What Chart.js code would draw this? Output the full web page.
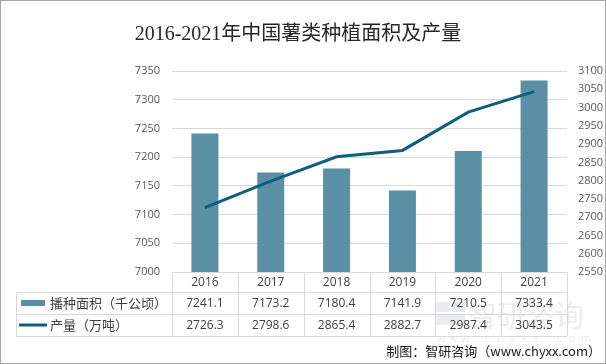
<!DOCTYPE html>
<html>
<head>
<meta charset="utf-8">
<script src="https://cdn.jsdelivr.net/npm/chart.js@4"></script>
<style>
  body { margin: 0; background: #fff; }
  #wrap { width: 606px; height: 364px; }
</style>
</head>
<body>
<div id="wrap"><canvas id="PotatoChart" width="606" height="364"></canvas></div>
<script>
const years = ['2016', '2017', '2018', '2019', '2020', '2021'];
const areaValues = [7241.1, 7173.2, 7180.4, 7141.9, 7210.5, 7333.4];
const outputValues = [2726.3, 2798.6, 2865.4, 2882.7, 2987.4, 3043.5];
const areaLabel = '播种面积（千公顷）';
const outputLabel = '产量（万吨）';
const titleText = '2016-2021年中国薯类种植面积及产量';
const sourceText = '制图：智研咨询（www.chyxx.com）';

const barColor = 'rgb(90,143,165)';
const lineColor = 'rgb(14,94,124)';
const gridColor = '#d9d9d9';
const numFont = "'Open Sans', 'Noto Sans CJK SC', sans-serif";
const cjkFont = "'Noto Sans CJK SC', sans-serif";

// draws title, the data table under the plot, watermark, source and frame
const tablePlugin = {
    id: 'tablePlugin',
    afterDraw(chart) {
        const ctx = chart.ctx;
        const area = chart.chartArea;
        const x = chart.scales.x;
        const half = (x.getPixelForValue(1) - x.getPixelForValue(0)) / 2;
        const rowTop = area.bottom;
        const row1 = rowTop + 20;
        const row2 = row1 + 22;
        const row3 = row2 + 22;
        const leftEdge = 16;
        ctx.save();

        // watermark
        ctx.fillStyle = 'rgba(180,188,198,0.28)';
        ctx.fillRect(436, 302, 13, 10);
        ctx.fillRect(452, 302, 13, 10);
        ctx.fillRect(436, 315, 29, 10);
        ctx.font = '29px ' + cjkFont;
        ctx.textAlign = 'left';
        ctx.textBaseline = 'middle';
        ctx.fillText('智研咨询', 468, 316);
        ctx.font = '11px ' + numFont;
        const wm = 'www.chyxx.com';
        for (let i = 0; i < wm.length; i++) {
            ctx.fillText(wm[i], 437 + i * 12, 339);
        }

        // table lines
        ctx.strokeStyle = gridColor;
        ctx.lineWidth = 1;
        ctx.beginPath();
        ctx.moveTo(area.left, row1 + 0.5); ctx.lineTo(area.right, row1 + 0.5);
        ctx.moveTo(leftEdge, row1 + 0.5); ctx.lineTo(area.left, row1 + 0.5);
        ctx.moveTo(leftEdge, row2 + 0.5); ctx.lineTo(area.right, row2 + 0.5);
        ctx.moveTo(leftEdge, row3 + 0.5); ctx.lineTo(area.right, row3 + 0.5);
        ctx.moveTo(leftEdge + 0.5, row1); ctx.lineTo(leftEdge + 0.5, row3);
        for (let i = 0; i <= years.length; i++) {
            const px = Math.round(x.getPixelForValue(i) - half) + 0.5;
            ctx.moveTo(px, rowTop); ctx.lineTo(px, row3);
        }
        ctx.stroke();

        // header and values
        ctx.textAlign = 'center';
        ctx.textBaseline = 'middle';
        ctx.fillStyle = '#404040';
        ctx.font = '12px ' + numFont;
        years.forEach((y, i) => {
            const cx = x.getPixelForValue(i);
            ctx.fillText(y, cx, (rowTop + row1) / 2 + 1);
            ctx.fillText(areaValues[i].toFixed(1), cx, (row1 + row2) / 2 + 1);
            ctx.fillText(outputValues[i].toFixed(1), cx, (row2 + row3) / 2 + 1);
        });

        // legend keys
        ctx.fillStyle = barColor;
        ctx.fillRect(21, (row1 + row2) / 2 - 3, 24, 6);
        ctx.strokeStyle = lineColor;
        ctx.lineWidth = 3;
        ctx.beginPath();
        ctx.moveTo(19, (row2 + row3) / 2);
        ctx.lineTo(47, (row2 + row3) / 2);
        ctx.stroke();
        ctx.textAlign = 'left';
        ctx.fillStyle = '#404040';
        ctx.font = '13px ' + cjkFont;
        ctx.fillText(areaLabel, 50, (row1 + row2) / 2);
        ctx.fillText(outputLabel, 50, (row2 + row3) / 2);

        // title
        ctx.textAlign = 'center';
        ctx.fillStyle = '#262626';
        ctx.font = "20px 'Liberation Serif', 'Noto Sans CJK SC', serif";
        ctx.fillText(titleText, 298, 35);

        // source
        ctx.textAlign = 'right';
        ctx.fillStyle = '#1a1a1a';
        ctx.font = '13px ' + cjkFont;
        ctx.fillText(sourceText, 601, 351);

        // frame
        ctx.strokeStyle = '#a6a6a6';
        ctx.lineWidth = 1;
        ctx.strokeRect(0.5, 0.5, chart.width - 1, chart.height - 1);
        ctx.restore();
    }
};

const plainTick = (v) => String(v);

new Chart(document.getElementById('PotatoChart').getContext('2d'), {
    type: 'bar',
    data: {
        labels: years,
        datasets: [
            {
                type: 'line',
                label: outputLabel,
                data: outputValues,
                yAxisID: 'y1',
                borderColor: lineColor,
                borderWidth: 3,
                pointRadius: 0,
                tension: 0,
                order: 0
            },
            {
                type: 'bar',
                label: areaLabel,
                data: areaValues,
                yAxisID: 'y',
                backgroundColor: barColor,
                barPercentage: 0.41,
                categoryPercentage: 1,
                order: 1
            }
        ]
    },
    options: {
        responsive: false,
        animation: false,
        layout: { padding: { top: 71, bottom: 92, left: 0, right: 0 } },
        plugins: {
            legend: { display: false },
            title: { display: false },
            tooltip: { enabled: false }
        },
        scales: {
            x: { display: false, offset: true },
            y: {
                position: 'left',
                min: 7000,
                max: 7350,
                ticks: { stepSize: 50, padding: 12, color: '#595959', callback: plainTick, font: { family: numFont, size: 11 } },
                grid: { color: gridColor, drawTicks: false },
                border: { display: false },
                afterFit(scale) { scale.width = 172; }
            },
            y1: {
                position: 'right',
                min: 2550,
                max: 3100,
                ticks: { stepSize: 50, padding: 11, color: '#595959', callback: plainTick, font: { family: numFont, size: 11 } },
                grid: { display: false, drawTicks: false },
                border: { display: false },
                afterFit(scale) { scale.width = 39; }
            }
        }
    },
    plugins: [tablePlugin]
});
</script>
</body>
</html>
